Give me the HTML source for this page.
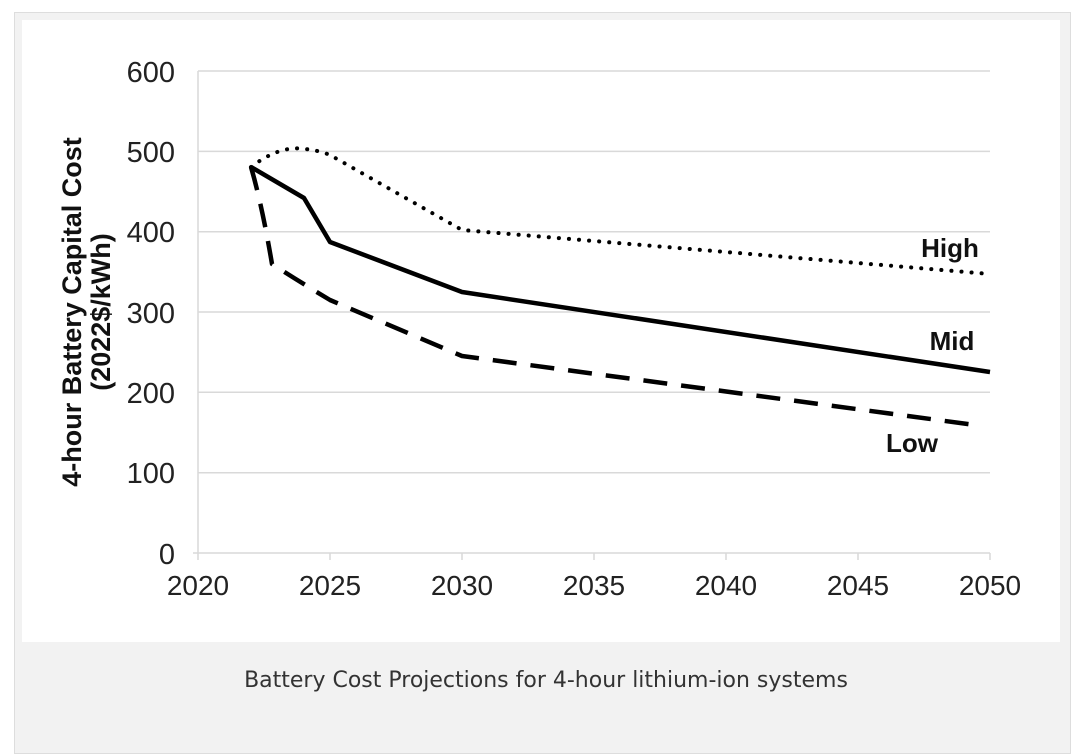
<!DOCTYPE html>
<html><head><style>
body{margin:0;background:#fff;width:1080px;height:744px;overflow:hidden;font-family:"Liberation Sans",sans-serif}
.box{position:absolute;left:14px;top:12px;width:1055px;height:740px;background:#f2f2f2;border:1px solid #ddd}
.cap{position:absolute;left:0;width:1092px;top:668px;text-align:center;font-size:22px;color:#333;font-family:"DejaVu Sans","Liberation Sans",sans-serif}
</style></head><body>
<div class="box"></div>
<svg style="position:absolute;left:0;top:0" width="1080" height="744">
<rect x="22" y="20" width="1038" height="622" fill="#fff"/>
<g stroke="#d9d9d9" stroke-width="1.5">
<line x1="198" x2="990" y1="71" y2="71"/><line x1="198" x2="990" y1="151.4" y2="151.4"/>
<line x1="198" x2="990" y1="231.7" y2="231.7"/><line x1="198" x2="990" y1="312" y2="312"/>
<line x1="198" x2="990" y1="392.3" y2="392.3"/><line x1="198" x2="990" y1="472.7" y2="472.7"/>
<line x1="198" x2="990" y1="553" y2="553"/><line x1="198" x2="198" y1="71" y2="553"/>
<line x1="193" x2="198" y1="553" y2="553"/>
<line x1="198" x2="198" y1="553" y2="560"/><line x1="330" x2="330" y1="553" y2="560"/><line x1="462" x2="462" y1="553" y2="560"/><line x1="594" x2="594" y1="553" y2="560"/><line x1="726" x2="726" y1="553" y2="560"/><line x1="858" x2="858" y1="553" y2="560"/><line x1="990" x2="990" y1="553" y2="560"/>
</g>
<g font-size="29" fill="#222" text-anchor="end">
<text x="175" y="82">600</text><text x="175" y="162">500</text><text x="175" y="242">400</text><text x="175" y="323">300</text><text x="175" y="403">200</text><text x="175" y="483">100</text><text x="175" y="564">0</text>
</g>
<g font-size="28" fill="#222" text-anchor="middle">
<text x="198" y="595">2020</text><text x="330" y="595">2025</text><text x="462" y="595">2030</text><text x="594" y="595">2035</text><text x="726" y="595">2040</text><text x="858" y="595">2045</text><text x="990" y="595">2050</text>
</g>
<g font-size="27" font-weight="bold" fill="#111" text-anchor="middle">
<text transform="translate(81,312) rotate(-90)">4-hour Battery Capital Cost</text>
<text transform="translate(110,312) rotate(-90)">(2022$/kWh)</text>
</g>
<g font-size="26" font-weight="bold" fill="#111" text-anchor="middle">
<text x="950" y="257">High</text><text x="952" y="350">Mid</text><text x="912" y="452">Low</text>
</g>
<g fill="none" stroke="#000" stroke-width="4.5" stroke-linejoin="round">
<polyline points="251,167 304,198 330,242 462,292 990,372"/>
<path d="M251,167 Q262,205 272,264 Q300,282 330,300 L462,356 L975,425" stroke-dasharray="24,14"/>
<path d="M251,167 Q280,145 304,149 Q318,150 330,155 L462,230 L990,274" stroke-width="4" stroke-dasharray="0.1,10" stroke-linecap="round"/>
</g>
</svg>
<div class="cap">Battery Cost Projections for 4-hour lithium-ion systems</div>
</body></html>
